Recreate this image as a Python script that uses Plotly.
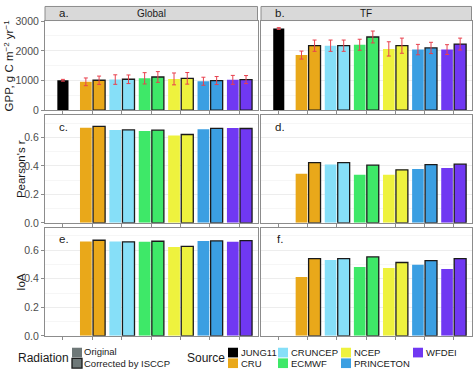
import plotly.graph_objects as go

# ---------------- data ----------------
sources = ["JUNG11", "CRU", "CRUNCEP", "ECMWF", "NCEP", "PRINCETON", "WFDEI"]
forcings = ["CRU", "CRUNCEP", "ECMWF", "NCEP", "PRINCETON", "WFDEI"]
source_colors = ["#000000", "#E9A81A", "#86DFF8", "#3EE868", "#EEF23E", "#3B9FE2", "#7038F2"]

gpp_global_jung = [1010]
gpp_global_jung_err = [30]
gpp_global_orig = [957, 1033, 1075, 1055, 977, 1023]
gpp_global_orig_err = [130, 160, 190, 200, 135, 150]
gpp_global_corr = [1010, 1043, 1120, 1075, 1000, 1033]
gpp_global_corr_err = [140, 145, 180, 195, 135, 135]

gpp_tf_jung = [2750]
gpp_tf_jung_err = [30]
gpp_tf_orig = [1857, 2173, 2205, 2065, 2042, 2042]
gpp_tf_orig_err = [135, 190, 185, 240, 175, 165]
gpp_tf_corr = [2173, 2173, 2466, 2173, 2097, 2228]
gpp_tf_corr_err = [190, 190, 200, 255, 190, 200]

r_global_orig = [0.668, 0.652, 0.645, 0.613, 0.657, 0.666]
r_global_corr = [0.677, 0.652, 0.650, 0.620, 0.663, 0.662]
r_tf_orig = [0.344, 0.410, 0.338, 0.338, 0.378, 0.385]
r_tf_corr = [0.423, 0.423, 0.405, 0.372, 0.408, 0.412]

ioa_global_orig = [0.661, 0.661, 0.659, 0.622, 0.665, 0.659]
ioa_global_corr = [0.670, 0.659, 0.663, 0.627, 0.665, 0.668]
ioa_tf_orig = [0.412, 0.532, 0.482, 0.475, 0.498, 0.468]
ioa_tf_corr = [0.541, 0.541, 0.553, 0.514, 0.527, 0.541]

panel_letters = ["a.", "b.", "c.", "d.", "e.", "f."]
strip_labels = ["Global", "TF"]
y_titles = ["GPP, g C m<sup>\u22122</sup> yr<sup>\u22121</sup>", "Pearson's r", "IoA"]
radiation_labels = ["Original", "Corrected by ISCCP"]

# ---------------- layout helpers ----------------
W, H = 474, 376
FONT = "Liberation Sans, Arial, sans-serif"
ERR = "#E8414E"
BORDER = "#8C8C8C"


def px(x):
    return x / W


def py(y):
    return 1 - y / H


col_dom = [(45, 257.5), (261, 471.5)]
row_dom = [(15, 107.7), (113, 224), (229, 340.7)]
y_ranges = [[0, 3020], [0, 0.754], [0, 0.758]]
y_ticks = [[0, 1000, 2000, 3000], [0, 0.2, 0.4, 0.6], [0, 0.2, 0.4, 0.6]]
y_ticktext = [["0", "1000", "2000", "3000"], ["0.0", "0.2", "0.4", "0.6"], ["0.0", "0.2", "0.4", "0.6"]]
y_minor = [500, 0.1, 0.1]

fcolors = source_colors[1:]

fig = go.Figure()

panel_data = [
    [(gpp_global_jung, gpp_global_jung_err, gpp_global_orig, gpp_global_orig_err, gpp_global_corr, gpp_global_corr_err),
     (gpp_tf_jung, gpp_tf_jung_err, gpp_tf_orig, gpp_tf_orig_err, gpp_tf_corr, gpp_tf_corr_err)],
    [(None, None, r_global_orig, None, r_global_corr, None),
     (None, None, r_tf_orig, None, r_tf_corr, None)],
    [(None, None, ioa_global_orig, None, ioa_global_corr, None),
     (None, None, ioa_tf_orig, None, ioa_tf_corr, None)],
]

layout = {}
shapes = []
annotations = []


def err(e):
    if e is None:
        return None
    return dict(type="data", array=e, visible=True, color=ERR, thickness=1, width=2)


for r in range(3):
    for c in range(2):
        i = r * 2 + c + 1
        xa = "x" if i == 1 else f"x{i}"
        ya = "y" if i == 1 else f"y{i}"
        jung, jung_err, orig, orig_err, corr, corr_err = panel_data[r][c]

        if jung is not None:
            fig.add_trace(go.Bar(x=["JUNG11"], y=jung, xaxis=xa, yaxis=ya,
                                 marker=dict(color=source_colors[0], line=dict(width=0)),
                                 offset=-0.19, width=0.38, error_y=err(jung_err),
                                 showlegend=False))
        fig.add_trace(go.Bar(x=forcings, y=orig, xaxis=xa, yaxis=ya,
                             marker=dict(color=fcolors, line=dict(width=0)),
                             offset=-0.42, width=0.40, error_y=err(orig_err),
                             showlegend=False))
        fig.add_trace(go.Bar(x=forcings, y=corr, xaxis=xa, yaxis=ya,
                             marker=dict(color=fcolors, line=dict(width=1.3, color="#1A1A1A")),
                             offset=0.025, width=0.41, error_y=err(corr_err),
                             showlegend=False))

        x0, x1 = col_dom[c]
        y0, y1 = row_dom[r]
        layout["xaxis" if i == 1 else f"xaxis{i}"] = dict(
            domain=[px(x0), px(x1)], anchor=ya, type="category",
            categoryorder="array", categoryarray=sources,
            range=[-0.61, 6.62], showticklabels=False, ticks="outside", ticklen=3,
            tickcolor=BORDER, showgrid=False, showline=True, linecolor=BORDER,
            linewidth=1, mirror=True, zeroline=False, fixedrange=True)
        layout["yaxis" if i == 1 else f"yaxis{i}"] = dict(
            domain=[py(y1), py(y0)], anchor=xa, range=y_ranges[r],
            tickvals=y_ticks[r], ticktext=y_ticktext[r], showticklabels=(c == 0),
            ticks="outside" if c == 0 else "", ticklen=3, tickcolor=BORDER,
            tickfont=dict(size=10.5, color="#4D4D4D", family=FONT),
            showgrid=True, gridcolor="#EDEDED", gridwidth=1,
            minor=dict(dtick=y_minor[r], showgrid=True, gridcolor="#F6F6F6", tick0=0),
            showline=True, linecolor=BORDER, linewidth=1, mirror=True, zeroline=False,
            fixedrange=True)

        if r == 0:
            ly = 7.5
        else:
            ly = y0 + 12
        annotations.append(dict(text=panel_letters[i - 1], xref="paper", yref="paper",
                                x=px(x0 + 18.5), y=py(ly), showarrow=False,
                                font=dict(size=11.5, color="#1A1A1A", family=FONT),
                                xanchor="center", yanchor="middle"))

# strips
for c in range(2):
    x0, x1 = col_dom[c]
    shapes.append(dict(type="rect", xref="paper", yref="paper", x0=px(x0), x1=px(x1),
                       y0=py(15), y1=py(0.5), fillcolor="#D9D9D9",
                       line=dict(color=BORDER, width=1), layer="below"))
    annotations.append(dict(text=strip_labels[c], xref="paper", yref="paper",
                            x=px((x0 + x1) / 2), y=py(8), showarrow=False,
                            font=dict(size=10, color="#1A1A1A", family=FONT),
                            xanchor="center", yanchor="middle"))

# y titles
title_x = [9, 21, 21]
for r in range(3):
    y0, y1 = row_dom[r]
    annotations.append(dict(text=y_titles[r], xref="paper", yref="paper",
                            x=px(title_x[r]), y=py((y0 + y1) / 2), textangle=-90,
                            showarrow=False, font=dict(size=11.5, color="#1A1A1A", family=FONT),
                            xanchor="center", yanchor="middle"))


def key(x, yc, fill, outline):
    shapes.append(dict(type="rect", xref="paper", yref="paper",
                       x0=px(x), x1=px(x + 10), y0=py(yc + 5), y1=py(yc - 5),
                       fillcolor=fill, line=dict(color="#1A1A1A" if outline else fill,
                                                 width=1.3 if outline else 0)))


def label(text, x, yc, size=9.5):
    annotations.append(dict(text=text, xref="paper", yref="paper", x=px(x), y=py(yc),
                            showarrow=False, xanchor="left", yanchor="middle",
                            font=dict(size=size, color="#1A1A1A", family=FONT)))


row1, row2 = 358, 369
label("Radiation", 16, 364, 12)
key(72, row1, "#6E7878", False)
label(radiation_labels[0], 82, row1 - 1)
key(72, row2, "#6E7878", True)
label(radiation_labels[1], 82, row2)

label("Source", 185, 364, 12)
legend_pos = [(228, row1), (228, row2), (278, row1), (278, row2), (341, row1), (341, row2), (413, row1)]
for s, col, (lx, lyc) in zip(sources, source_colors, legend_pos):
    key(lx, lyc, col, False)
    label(s, lx + 11, lyc)

fig.update_layout(
    width=W, height=H, margin=dict(l=0, r=0, t=0, b=0),
    paper_bgcolor="white", plot_bgcolor="white", barmode="overlay",
    shapes=shapes, annotations=annotations, showlegend=False, hovermode=False,
    font=dict(family=FONT), **layout)

fig.write_html("out.html", config={"displayModeBar": False, "staticPlot": True},
               post_script="document.body.style.margin='0';document.body.style.overflow='hidden';")
